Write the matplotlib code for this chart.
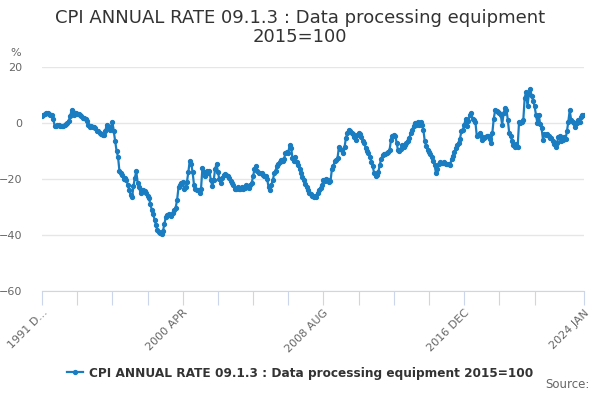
import matplotlib
matplotlib.use('Agg')
import matplotlib.pyplot as plt
import pandas as pd

# monthly annual rate (%), Dec 1991 .. Jan 2024
annual_rate = [
    2.4, 3.0, 3.3, 3.6, 3.6, 3.3, 3.0, 2.8, 1.5, -1.0,
    -1.0, -0.8, -0.6, -0.9, -1.0, -0.9, -0.6, -0.3, 0.0, 0.8,
    2.5, 4.5, 4.0, 3.0, 3.6, 3.3, 3.2, 2.8, 2.4, 1.9,
    1.8, 1.6, 0.8, -0.6, -1.4, -1.2, -1.3, -1.4, -1.9, -3.0,
    -3.0, -3.5, -4.0, -4.3, -4.4, -2.8, -0.6, -1.8, -2.4,
    -1.5, 0.5, -3.0, -6.5, -10.0, -12.0, -17.0, -17.8, -18.6, -20.0,
    -19.6, -20.5, -22.0, -24.0, -25.8, -26.6, -22.5, -19.5, -17.3, -21.5,
    -23.0, -25.0, -23.8, -23.8, -24.2, -25.0, -26.0, -26.8, -29.0, -31.0,
    -32.5, -34.5, -36.5, -38.3, -38.9, -39.3, -39.7, -38.5, -36.0, -33.5,
    -32.8, -32.6, -32.8, -33.2, -32.2, -31.0, -30.2, -27.5, -23.0,
    -22.3, -21.5, -21.0, -23.5, -23.0, -21.0, -17.5, -13.5, -14.5, -17.5,
    -22.0, -23.5, -23.8, -23.8, -25.0, -23.5, -16.0, -17.5, -19.0, -17.3,
    -17.8, -17.3, -20.5, -22.5, -20.5, -16.5, -14.5, -17.5, -20.0, -21.5,
    -19.7, -18.5, -18.2, -18.4, -18.9, -19.8, -20.8, -21.5, -22.1, -23.5,
    -23.4, -22.8, -23.4, -23.4, -22.8, -23.6, -23.3, -22.3,
    -22.8, -23.2, -22.0, -21.5, -19.0, -16.5, -15.5, -17.0, -17.8, -17.9,
    -18.0, -18.4, -18.8, -19.1, -20.0, -23.0, -24.0, -22.0, -20.5, -18.0,
    -17.0, -15.2, -14.5, -14.0, -13.2, -13.6, -12.7, -10.8, -10.3, -10.6,
    -7.8, -8.8, -12.5, -13.5, -12.0, -14.0, -15.0, -16.5, -17.8, -19.3,
    -20.5, -21.8, -22.7, -23.8, -25.0, -25.5, -26.1, -26.6, -26.0,
    -26.4, -25.0, -23.8, -23.2, -22.2, -20.5, -20.6, -20.0, -20.5, -21.2,
    -20.8, -16.5, -15.5, -13.6, -13.1, -12.5, -8.6, -9.2, -9.5, -10.7,
    -8.6, -5.2, -3.6, -2.5, -2.8, -3.4, -4.0, -5.0, -6.0, -4.4,
    -3.7, -4.0, -5.0, -6.5, -7.2, -8.9, -10.0, -10.6, -12.0, -13.8,
    -15.5, -17.8, -19.0, -18.6, -17.5, -15.0, -12.8,
    -11.5, -11.0, -11.2, -10.8, -10.2, -9.6, -6.0, -4.6, -4.4, -4.5,
    -7.0, -9.8, -10.0, -9.4, -8.0, -8.4, -8.0, -7.2, -6.3, -5.5,
    -3.5, -2.6, -1.0, -0.1, -0.6, 0.4, -0.6, 0.3, -0.8, -2.5,
    -6.5, -8.2, -9.5, -10.5, -11.0, -12.3, -13.5, -15.0, -18.0, -16.5,
    -14.8, -14.0, -14.2, -14.3, -13.8, -14.8, -14.6, -14.6, -15.0,
    -13.0, -11.9, -10.4, -9.0, -8.0, -7.1, -5.6, -3.0, -2.4, -0.8,
    1.5, -1.0, 0.6, 3.0, 3.5, 1.4, 1.2, 0.2, -4.8, -4.2,
    -3.6, -4.7, -5.9, -5.5, -5.0, -4.8, -4.5, -5.8, -7.0, -3.6,
    1.5, 4.5, 4.3, 3.8, 3.4, 2.8, -0.6, 3.4, 5.2, 4.8,
    1.2, -3.6, -4.8, -6.3, -8.0, -8.6, -7.5, -8.5,
    0.5, -0.1, 0.5, 1.0, 9.0, 11.0, 6.0, 10.5, 12.0, 9.5,
    8.0, 6.0, 3.0, 0.0, 3.0, -0.5, -1.8, -6.0, -3.8, -4.2,
    -3.8, -4.8, -5.5, -5.5, -6.5, -7.6, -8.4, -7.0, -5.0, -4.5,
    -6.5, -6.2, -5.0, -5.8, -3.0, 0.5, 4.5, 1.2, 0.5, -0.1,
    -1.6, 0.0, 1.1, 0.5, 2.2, 3.0, 2.8,
]

months = pd.date_range('1991-12-01', periods=len(annual_rate), freq='MS')

tick_every = 25
label_months = ['1991 D...', '2000 APR', '2008 AUG', '2016 DEC', '2024 JAN']
y_ticks = [-60, -40, -20, 0, 20]

blue = '#1a7dc2'
grey = '#666666'
axis_col = '#ccd6eb'

fig = plt.figure(figsize=(6, 4), dpi=100)
ax = fig.add_axes([0.07, 0.2725, 0.903, 0.56])

x = list(range(len(months)))
ax.plot(x, annual_rate, color=blue, lw=1.6, marker='o', ms=2.8,
        label='CPI ANNUAL RATE 09.1.3 : Data processing equipment 2015=100')

ax.set_xlim(0, len(months) - 1)
ax.set_ylim(-60, 20)
ax.set_yticks(y_ticks)
ax.yaxis.grid(True, color='#e6e6e6', lw=1)
ax.set_axisbelow(True)
for s in ['top', 'right', 'left']:
    ax.spines[s].set_visible(False)
ax.spines['bottom'].set_color(axis_col)
ax.tick_params(axis='y', length=0, labelsize=8, labelcolor=grey, pad=14)

ticks = list(range(0, len(months) - 25, tick_every)) + [len(months) - 1]
ax.set_xticks(ticks)
labels = [''] * len(ticks)
for i, t in enumerate(ticks):
    if t % 100 == 0:
        labels[i] = label_months[t // 100]
labels[-1] = label_months[-1]
ax.set_xticklabels(labels, rotation=45, ha='right', rotation_mode='anchor')
ax.tick_params(axis='x', length=10, color=axis_col, labelsize=8,
               labelcolor=grey, pad=2)

fig.text(0.5, 0.977, 'CPI ANNUAL RATE 09.1.3 : Data processing equipment\n2015=100',
         ha='center', va='top', fontsize=13, color='#333333', linespacing=1.05)
fig.text(0.017, 0.86, '%', fontsize=8, color=grey)

fig.legend(loc='center', bbox_to_anchor=(0.5, 0.067), frameon=False,
           prop={'size': 8.7, 'weight': 'bold'}, handlelength=1.3,
           handletextpad=0.5, labelcolor='#333333')
fig.text(0.982, 0.022, 'Source:', ha='right', va='bottom', fontsize=8.5, color=grey)

fig.savefig('out.png', dpi=100)
